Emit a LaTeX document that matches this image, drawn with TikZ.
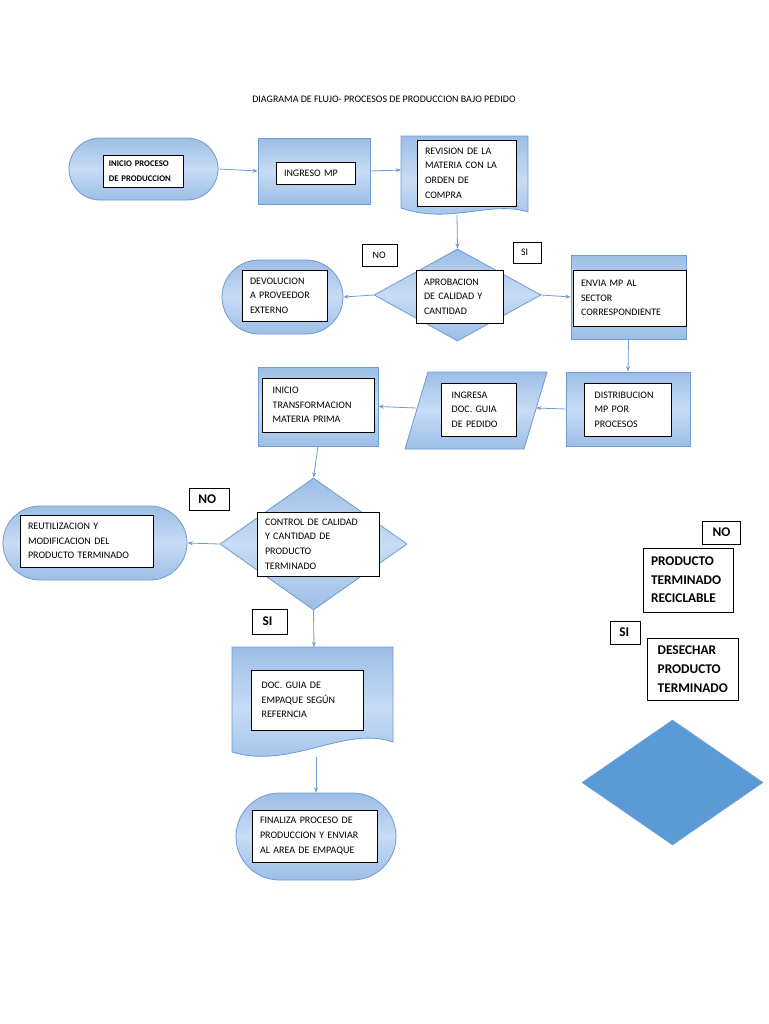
\documentclass[tikz,border=0pt]{standalone}
\usepackage{fontspec}
\setmainfont{Carlito}
\usetikzlibrary{shapes.geometric,shapes.misc,arrows.meta}
\definecolor{sb}{RGB}{156,190,230}
\definecolor{sl}{RGB}{200,220,245}
\definecolor{bd}{RGB}{110,155,210}
\definecolor{dk}{RGB}{91,155,213}
\begin{document}
\begin{tikzpicture}[x=0.75pt,y=-0.75pt,
 sh/.style={draw=bd,line width=0.6pt,top color=sb,bottom color=sb,middle color=sl},
 term/.style={sh,rounded rectangle,inner sep=0pt},
 box/.style={sh,rectangle,inner sep=0pt},
 dia/.style={sh,diamond,inner sep=0pt},
 lab/.style={draw=black,fill=white,line width=0.5pt,align=left,inner sep=0pt,font=\fontsize{7.5}{11}\selectfont,text width=#1},
 big/.style={draw=black,fill=white,line width=0.5pt,align=left,inner sep=0pt,font=\fontsize{10}{14}\selectfont\bfseries,text width=#1},
 arr/.style={draw=bd,line width=0.6pt,-{Stealth[length=4pt,width=3pt]}}]
\useasboundingbox (0,0) rectangle (768,1024);
\node[font=\fontsize{7.5}{9}\selectfont] (title) at (384,99) {DIAGRAMA DE FLUJO- PROCESOS DE PRODUCCION BAJO PEDIDO};
% shapes
\node[term,minimum width=149pt*0.75,minimum height=62pt*0.75] (t1) at (143.5,169) {};
\node[lab=80pt*0.75,minimum height=32pt*0.75,font=\fontsize{6.5}{11}\selectfont\bfseries] at (143.5,171) {\hspace*{4pt}INICIO PROCESO\\\hspace*{4pt}DE PRODUCCION};
\node[box,minimum width=112pt*0.75,minimum height=66pt*0.75] (r1) at (314,171) {};
\node[lab=79pt*0.75,minimum height=22pt*0.75] at (315.5,173) {\hspace*{6pt}INGRESO MP};
% document 1
\path[sh] (401,136) -- (528,136) -- (528,212) .. controls (490,200) and (450,225) .. (401,208) -- cycle;
\coordinate (d1t) at (457,170); \coordinate (d1l) at (401,170); \coordinate (d1b) at (457,215);
\node[lab=99pt*0.75,minimum height=66pt*0.75] at (466.5,173) {\hspace*{6pt}REVISION DE LA\\\hspace*{6pt}MATERIA CON LA\\\hspace*{6pt}ORDEN DE\\\hspace*{6pt}COMPRA};
\node[dia,minimum width=167pt*0.75,minimum height=92pt*0.75] (q1) at (457.5,295) {};
\node[lab=87pt*0.75,minimum height=53pt*0.75] at (459.5,296.5) {\hspace*{6pt}APROBACION\\\hspace*{6pt}DE CALIDAD Y\\\hspace*{6pt}CANTIDAD};
\node[lab=35pt*0.75,minimum height=22pt*0.75] at (379.5,255) {\hspace*{8pt}NO};
\node[lab=28pt*0.75,minimum height=21pt*0.75] at (527,252.5) {\hspace*{6pt}SI};
\node[term,minimum width=121pt*0.75,minimum height=74pt*0.75] (t2) at (282.5,297) {};
\node[lab=85pt*0.75,minimum height=51pt*0.75] at (284.5,295.5) {\hspace*{6pt}DEVOLUCION\\\hspace*{6pt}A PROVEEDOR\\\hspace*{6pt}EXTERNO};
\node[box,minimum width=115pt*0.75,minimum height=84pt*0.75] (r2) at (628.5,297) {};
\node[lab=113pt*0.75,minimum height=56pt*0.75] at (629.5,298) {\hspace*{6pt}ENVIA MP AL\\\hspace*{6pt}SECTOR\\\hspace*{6pt}CORRESPONDIENTE};
\node[box,minimum width=124pt*0.75,minimum height=74pt*0.75] (r3) at (628,409) {};
\node[lab=87pt*0.75,minimum height=53pt*0.75] at (627.5,409.5) {\hspace*{8pt}DISTRIBUCION\\\hspace*{8pt}MP POR\\\hspace*{8pt}PROCESOS};
\path[sh] (428,372) -- (547,372) -- (524,449) -- (405,449) -- cycle;
\coordinate (p1r) at (536,408); \coordinate (p1l) at (416,408);
\node[lab=75pt*0.75,minimum height=53pt*0.75] at (478.5,409.5) {\hspace*{8pt}INGRESA\\\hspace*{8pt}DOC. GUIA\\\hspace*{8pt}DE PEDIDO};
\node[box,minimum width=120pt*0.75,minimum height=79pt*0.75] (r4) at (318,406.5) {};
\node[lab=112pt*0.75,minimum height=54pt*0.75] at (318,405) {\hspace*{8pt}INICIO\\\hspace*{8pt}TRANSFORMACION\\\hspace*{8pt}MATERIA PRIMA};
\node[dia,minimum width=187pt*0.75,minimum height=132pt*0.75] (q2) at (313.5,544) {};
\node[lab=122pt*0.75,minimum height=64pt*0.75] at (318,544) {\hspace*{6pt}CONTROL DE CALIDAD\\\hspace*{6pt}Y CANTIDAD DE\\\hspace*{6pt}PRODUCTO\\\hspace*{6pt}TERMINADO};
\node[big=40pt*0.75,minimum height=22pt*0.75] at (209,499) {\hspace*{7pt}NO};
\node[big=35pt*0.75,minimum height=25pt*0.75] at (269.5,621.5) {\hspace*{8pt}SI};
\node[term,minimum width=184pt*0.75,minimum height=74pt*0.75] (t3) at (95,543) {};
\node[lab=133pt*0.75,minimum height=52pt*0.75] at (86.5,541) {\hspace*{6pt}REUTILIZACION Y\\\hspace*{6pt}MODIFICACION DEL\\\hspace*{6pt}PRODUCTO TERMINADO};
\path[sh] (232,647) -- (393,647) -- (393,742) .. controls (345,725) and (290,770) .. (232,752) -- cycle;
\coordinate (d2t) at (314,647); \coordinate (d2b) at (316,757);
\node[lab=112pt*0.75,minimum height=60pt*0.75] at (307,700) {\hspace*{8pt}DOC. GUIA DE\\\hspace*{8pt}EMPAQUE SEGÚN\\\hspace*{8pt}REFERNCIA};
\node[term,minimum width=160pt*0.75,minimum height=87pt*0.75] (t4) at (316,836.5) {};
\node[lab=125pt*0.75,minimum height=52pt*0.75] at (314.5,836) {\hspace*{6pt}FINALIZA PROCESO DE\\\hspace*{6pt}PRODUCCION Y ENVIAR\\\hspace*{6pt}AL AREA DE EMPAQUE};
% right side
\node[big=38pt*0.75,minimum height=23pt*0.75] at (721,532.5) {\hspace*{8pt}NO};
\node[big=90pt*0.75,minimum height=64pt*0.75] at (688,580) {\hspace*{6pt}PRODUCTO\\\hspace*{6pt}TERMINADO\\\hspace*{6pt}RECICLABLE};
\node[big=30pt*0.75,minimum height=23pt*0.75] at (625,632.5) {\hspace*{7pt}SI};
\node[big=91pt*0.75,minimum height=62pt*0.75] at (692.5,669) {\hspace*{8pt}DESECHAR\\\hspace*{8pt}PRODUCTO\\\hspace*{8pt}TERMINADO};
\node[diamond,draw=bd,fill=dk,inner sep=0pt,minimum width=181pt*0.75,minimum height=125pt*0.75] (q3) at (672.5,782.5) {};
% arrows
\draw[arr] (t1.east) -- (r1.west);
\draw[arr] (r1.east) -- (d1l);
\draw[arr] (d1b) -- (q1.north);
\draw[arr] (q1.west) -- (t2.east);
\draw[arr] (q1.east) -- (r2.west);
\draw[arr] (r2.south) -- (r3.north);
\draw[arr] (r3.west) -- (p1r);
\draw[arr] (p1l) -- (r4.east);
\draw[arr] (r4.south) -- (q2.north);
\draw[arr] (q2.west) -- (t3.east);
\draw[arr] (q2.south) -- (d2t);
\draw[arr] (d2b) -- (t4.north);
\end{tikzpicture}
\end{document}
